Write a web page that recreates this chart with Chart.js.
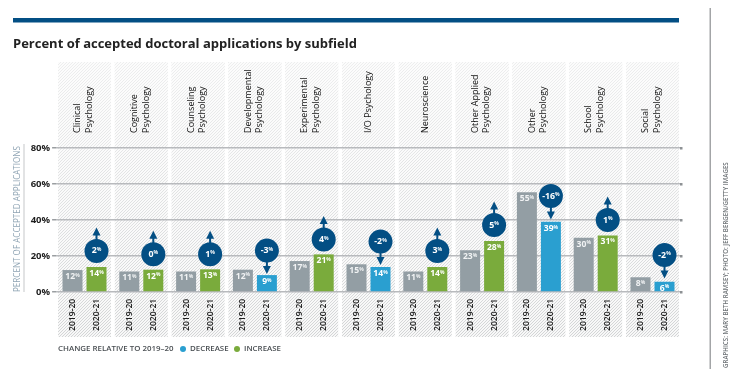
<!DOCTYPE html>
<html lang="en">
<head>
<meta charset="UTF-8">
<title>Percent of accepted doctoral applications by subfield</title>
<script src="https://cdn.jsdelivr.net/npm/chart.js"></script>
<style>
  html, body { margin: 0; background: #fff; }
  canvas { display: block; }
</style>
</head>
<body>
<canvas id="chart" width="740" height="379"></canvas>
<script>
// values
const subfields = [
  ["Clinical", "Psychology"], ["Cognitive", "Psychology"], ["Counseling", "Psychology"],
  ["Developmental", "Psychology"], ["Experimental", "Psychology"], ["I/O Psychology"],
  ["Neuroscience"], ["Other Applied", "Psychology"], ["Other", "Psychology"],
  ["School", "Psychology"], ["Social", "Psychology"]
];
const years = ["2019-20", "2020-21"];
const values1920 = [12.2, 11.4, 11.4, 12.4, 17.2, 15.4, 11.4, 23.2, 55.4, 30.2, 8.2];
const values2021 = [13.9, 12.4, 12.6, 9.4, 20.9, 13.9, 13.9, 28.3, 39, 31.4, 5.7];
const changes = [2, 0, 1, -3, 4, -2, 3, 5, -16, 1, -2];
// height of the change bubbles, in percent on the y axis
const bubbleLevels = [22.8, 21, 21, 23, 29.2, 28, 22.8, 37.2, 53.3, 40, 20.5];
const yTicks = [0, 20, 40, 60, 80];

const NAVY = "#034f84", GREY = "#939ea4", GREEN = "#7aab3c", BLUE = "#2a9fd0";
const FONT = '"Open Sans"';

function pct(ctx, text, x, y, size, color) {
  // number with the small raised % sign, centred on x
  ctx.fillStyle = color;
  ctx.textAlign = "left";
  ctx.textBaseline = "middle";
  ctx.font = `700 ${size}px ${FONT}`;
  const w = ctx.measureText(text).width;
  ctx.font = `700 ${size * 0.58}px ${FONT}`;
  const w2 = ctx.measureText("%").width;
  const left = x - (w + w2) / 2;
  ctx.fillText("%", left + w, y - size * 0.14);
  ctx.font = `700 ${size}px ${FONT}`;
  ctx.fillText(text, left, y);
}

function rotated(ctx, text, x, y, font, color) {
  ctx.save();
  ctx.translate(x, y);
  ctx.rotate(-Math.PI / 2);
  ctx.font = font;
  ctx.fillStyle = color;
  ctx.textAlign = "left";
  ctx.textBaseline = "middle";
  ctx.fillText(text, 0, 0);
  ctx.restore();
}

function hatch(ctx) {
  const c = document.createElement("canvas");
  c.width = c.height = 3;
  const p = c.getContext("2d");
  p.fillStyle = "#f8f8f8";
  p.fillRect(0, 0, 3, 3);
  p.strokeStyle = "#c9cbcd";
  p.lineWidth = 0.8;
  p.beginPath();
  p.moveTo(-1, 4); p.lineTo(4, -1);
  p.moveTo(-1, 1); p.lineTo(1, -1);
  p.moveTo(2, 4); p.lineTo(4, 2);
  p.stroke();
  return ctx.createPattern(c, "repeat");
}

const panels = {
  id: "panels",
  beforeDraw(chart) {
    const { ctx, chartArea: a, scales: { x } } = chart;
    const pattern = hatch(ctx);
    const fade = ctx.createLinearGradient(0, a.top, 0, a.bottom);
    fade.addColorStop(0, "rgba(255,255,255,0.6)");
    fade.addColorStop(0.6, "rgba(255,255,255,0.25)");
    fade.addColorStop(1, "rgba(255,255,255,0)");
    subfields.forEach((_, i) => {
      const cx = x.getPixelForValue(i);
      ctx.fillStyle = pattern;
      ctx.fillRect(cx - 26.5, a.top, 53, a.bottom - a.top);
      ctx.fillStyle = fade;
      ctx.fillRect(cx - 26.5, a.top, 53, a.bottom - a.top);
    });
  }
};

const annotations = {
  id: "annotations",
  afterDatasetsDraw(chart) {
    const { ctx, scales: { x, y } } = chart;
    const a = chart.getDatasetMeta(0).data, b = chart.getDatasetMeta(1).data;

    // page furniture
    ctx.fillStyle = "#034f84";
    ctx.fillRect(13, 18, 666, 4.5);
    ctx.fillStyle = "#a3a5a7";
    ctx.fillRect(709.5, 8, 1.5, 361);
    ctx.fillStyle = "#222";
    ctx.font = `700 13px ${FONT}`;
    ctx.textAlign = "left";
    ctx.textBaseline = "middle";
    ctx.fillText("Percent of accepted doctoral applications by subfield", 13, 44);
    rotated(ctx, "GRAPHICS: MARY BETH RAMSEY; PHOTO: JEFF BERGEN/GETTY IMAGES", 726, 368, `600 6.2px ${FONT}`, "#6f7478");

    // y axis title and its rule
    rotated(ctx, "PERCENT OF ACCEPTED APPLICATIONS", 18, 292, `400 8.1px ${FONT}`, "#8ea3b3");
    ctx.fillStyle = "#c6c8ca";
    ctx.fillRect(23.5, 144, 1, 148);

    // grid end dots
    ctx.fillStyle = "#8d9194";
    yTicks.forEach(t => ctx.fillRect(680, y.getPixelForValue(t) - 1, 2.5, 2.5));

    subfields.forEach((lines, i) => {
      // subfield names
      const cx = x.getPixelForValue(i);
      const start = lines.length === 1 ? cx : cx - 6.8;
      lines.forEach((line, n) => rotated(ctx, line, start + n * 11.5, 133, `500 9px ${FONT}`, "#111"));

      // year labels under the bars
      rotated(ctx, years[0], a[i].x, 331, `600 8.6px ${FONT}`, "#1d1d1d");
      rotated(ctx, years[1], b[i].x, 331, `600 8.6px ${FONT}`, "#1d1d1d");

      // value labels
      pct(ctx, String(Math.round(values1920[i])), a[i].x, a[i].y + 6.5, 8.6, "#f1f3f4");
      pct(ctx, String(Math.round(values2021[i])), b[i].x, b[i].y + 6.5, 8.6, "#ffffff");

      // change bubble and arrow
      const bx = b[i].x, by = y.getPixelForValue(bubbleLevels[i]);
      const dir = changes[i] < 0 ? 1 : -1;
      const tip = by + dir * 23.5;
      ctx.fillStyle = NAVY;
      ctx.fillRect(bx - 1, Math.min(by, tip + dir * -6), 2, 17.5);
      ctx.beginPath();
      ctx.moveTo(bx, tip);
      ctx.lineTo(bx - 4, tip - dir * 8);
      ctx.lineTo(bx + 4, tip - dir * 8);
      ctx.closePath();
      ctx.fill();
      ctx.beginPath();
      ctx.arc(bx, by, 12, 0, Math.PI * 2);
      ctx.fill();
      pct(ctx, String(changes[i]), bx, by, 8.8, "#ffffff");
    });

    // legend row
    ctx.textAlign = "left";
    ctx.textBaseline = "middle";
    ctx.font = `600 7.9px ${FONT}`;
    ctx.fillStyle = "#4a4f53";
    ctx.fillText("CHANGE RELATIVE TO 2019\u201320", 58, 349);
    ctx.fillText("DECREASE", 190, 349);
    ctx.fillText("INCREASE", 244, 349);
    ctx.fillStyle = BLUE;
    ctx.beginPath(); ctx.arc(183, 349, 3, 0, Math.PI * 2); ctx.fill();
    ctx.fillStyle = GREEN;
    ctx.beginPath(); ctx.arc(237, 349, 3, 0, Math.PI * 2); ctx.fill();
  }
};

new Chart(document.getElementById("chart"), {
  type: "bar",
  data: {
    labels: subfields.map(s => s.join(" ")),
    datasets: [
      { label: years[0], data: values1920, backgroundColor: GREY },
      { label: years[1], data: values2021, backgroundColor: changes.map(c => c < 0 ? BLUE : GREEN) }
    ]
  },
  options: {
    responsive: false,
    animation: false,
    layout: { padding: { left: 16.1, right: 59.1, top: 62, bottom: 42 } },
    barPercentage: 0.833,
    categoryPercentage: 0.845,
    plugins: { legend: { display: false }, tooltip: { enabled: false } },
    scales: {
      x: { display: false },
      y: {
        min: -25,
        max: 127.8,
        afterBuildTicks(s) { s.ticks = yTicks.map(v => ({ value: v })); },
        afterFit(s) { s.width = 40; },
        ticks: {
          autoSkip: false,
          padding: 2,
          color: "#1d1d1d",
          font: { family: "Open Sans", size: 9.5, weight: "700" },
          callback: v => v + "%"
        },
        grid: { color: "#b8babd", lineWidth: 1.5, tickLength: 4, tickColor: "#9a9ea1" },
        border: { display: false }
      }
    }
  },
  plugins: [panels, annotations]
});
</script>
</body>
</html>
